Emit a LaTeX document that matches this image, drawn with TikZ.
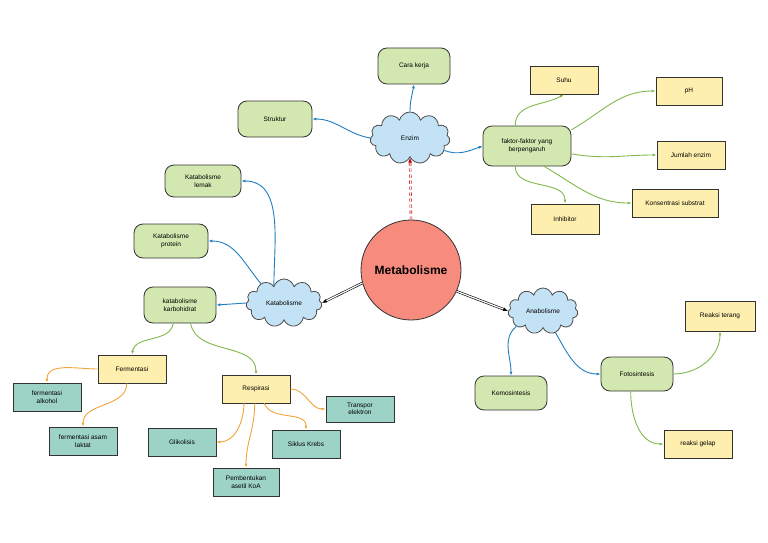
\documentclass[tikz,border=0pt]{standalone}
\usepackage{fontspec}
\setmainfont{Liberation Sans}
\usetikzlibrary{shapes.symbols,arrows.meta}
\definecolor{gfill}{HTML}{D2E8B0}
\definecolor{bfill}{HTML}{C4E2F5}
\definecolor{yfill}{HTML}{FFEFAE}
\definecolor{tfill}{HTML}{9DD3C7}
\definecolor{rfill}{HTML}{F78B7D}
\definecolor{barr}{HTML}{1F7EC2}
\definecolor{garr}{HTML}{82B84E}
\definecolor{oarr}{HTML}{F0A43A}
\begin{document}
\begin{tikzpicture}[x=1pt,y=-1pt,
 base/.style={draw=black!80,line width=0.8pt,align=center,font=\fontsize{6.5}{7.5}\selectfont,inner sep=1pt},
 gbox/.style={base,fill=gfill,rounded corners=9pt},
 ybox/.style={base,fill=yfill},
 tbox/.style={base,fill=tfill},
 cld/.style={base,draw=black!70,fill=bfill,cloud,cloud puffs=11,aspect=1.5},
 ba/.style={draw=barr,line width=0.9pt,-{Latex[length=4pt]}},
 ga/.style={draw=garr,line width=0.9pt,-{Latex[length=4pt]}},
 oa/.style={draw=oarr,line width=0.9pt,-{Latex[length=4pt]}},
 dbl/.style={double,double distance=1.2pt,line width=0.6pt,-{Latex[length=5pt]}}]
\useasboundingbox (0,0) rectangle (768,543);
\node[circle,draw=black!80,line width=0.8pt,fill=rfill,minimum size=100pt,font=\bfseries\fontsize{12}{14}\selectfont] (met) at (411,270) {Metabolisme};
\node[cld,minimum width=80pt,minimum height=52pt] (enz) at (410,138) {Enzim};
\node[gbox,minimum width=72pt,minimum height=36pt] (cara) at (414,66) {Cara kerja};
\node[gbox,minimum width=74pt,minimum height=36pt] (str) at (275,119) {Struktur};
\node[gbox,minimum width=88pt,minimum height=40pt] (fak) at (527,146) {faktor-faktor yang\\berpengaruh};
\node[ybox,minimum width=68pt,minimum height=28pt] (suhu) at (564,80) {Suhu};
\node[ybox,minimum width=66pt,minimum height=28pt] (ph) at (689,91) {pH};
\node[ybox,minimum width=68pt,minimum height=28pt] (jum) at (691,155) {Jumlah enzim};
\node[ybox,minimum width=86pt,minimum height=28pt] (kon) at (675,203) {Konsentrasi substrat};
\node[ybox,minimum width=68pt,minimum height=30pt] (inh) at (565,219) {Inhibitor};
\node[gbox,minimum width=76pt,minimum height=32pt] (lem) at (203,181) {Katabolisme\\lemak};
\node[gbox,minimum width=74pt,minimum height=34pt] (pro) at (171,241) {Katabolisme\\protein};
\node[cld,minimum width=76pt,minimum height=48pt] (kat) at (284,303) {Katabolisme};
\node[gbox,minimum width=72pt,minimum height=36pt] (kar) at (180,305) {katabolisme\\karbohidrat};
\node[ybox,minimum width=68pt,minimum height=28pt] (fer) at (132,369) {Fermentasi};
\node[ybox,minimum width=68pt,minimum height=28pt] (res) at (256,389) {Respirasi};
\node[tbox,minimum width=68pt,minimum height=28pt] (alk) at (47,397) {fermentasi\\alkohol};
\node[tbox,minimum width=68pt,minimum height=28pt] (lak) at (83,441) {fermentasi asam\\laktat};
\node[tbox,minimum width=68pt,minimum height=28pt] (gli) at (182,442) {Glikolisis};
\node[tbox,minimum width=66pt,minimum height=28pt] (ase) at (246,482) {Pembentukan\\asetil KoA};
\node[tbox,minimum width=68pt,minimum height=28pt] (kre) at (306,444) {Siklus Krebs};
\node[tbox,minimum width=68pt,minimum height=26pt] (tra) at (360,409) {Transpor\\elektron};
\node[cld,minimum width=70pt,minimum height=46pt] (ana) at (543,311) {Anabolisme};
\node[gbox,minimum width=72pt,minimum height=34pt] (kem) at (511,393) {Kemosintesis};
\node[gbox,minimum width=72pt,minimum height=34pt] (fot) at (637,374) {Fotosintesis};
\node[ybox,minimum width=70pt,minimum height=30pt] (ter) at (720,316) {Reaksi terang};
\node[ybox,minimum width=68pt,minimum height=28pt] (gel) at (698,444) {reaksi gelap};
% main arrows
\draw[dbl,draw=black,double=white] (met.195) -- (kat.east);
\draw[dbl,draw=black,double=white] (met.-25) -- (ana.west);
\draw[draw=red!75!black,dashed,double,double distance=1.2pt,line width=0.6pt,-{Latex[length=5pt]}] (met.north) -- (enz.south);
% enzim
\draw[ba] (enz.north) to[out=90,in=-100] (cara.south);
\draw[ba] (enz.west) to[out=170,in=0] (str.east);
\draw[ba] (enz.-20) to[out=-20,in=200] (fak.west);
\draw[ga] (fak.120) to[out=90,in=-150] (suhu.south);
\draw[ga] (fak.20) to[out=30,in=180] (ph.west);
\draw[ga] (fak.-10) to[out=-10,in=180] (jum.west);
\draw[ga] (fak.-50) to[out=-30,in=180] (kon.west);
\draw[ga] (fak.-120) to[out=-90,in=90] (inh.north);
% katabolisme
\draw[ba] (kat.120) to[out=90,in=0] (lem.east);
\draw[ba] (kat.140) to[out=130,in=0] (pro.east);
\draw[ba] (kat.west) -- (kar.east);
\draw[ga] (kar.-110) to[out=-100,in=80] (fer.north);
\draw[ga] (kar.-60) to[out=-80,in=90] (res.north);
\draw[oa] (fer.west) to[out=180,in=90] (alk.north);
\draw[oa] (fer.-110) to[out=-90,in=90] (lak.north);
\draw[oa] (res.-130) to[out=-90,in=0] (gli.east);
\draw[oa] (res.-95) to[out=-90,in=90] (ase.north);
\draw[oa] (res.-60) to[out=-70,in=90] (kre.north);
\draw[oa] (res.east) to[out=0,in=180] (tra.west);
% anabolisme
\draw[ba] (ana.-150) to[out=-140,in=90] (kem.north);
\draw[ba] (ana.-60) to[out=-60,in=180] (fot.west);
\draw[ga] (fot.east) to[out=0,in=-90] (ter.south);
\draw[ga] (fot.-110) to[out=-90,in=180] (gel.west);
\end{tikzpicture}
\end{document}
